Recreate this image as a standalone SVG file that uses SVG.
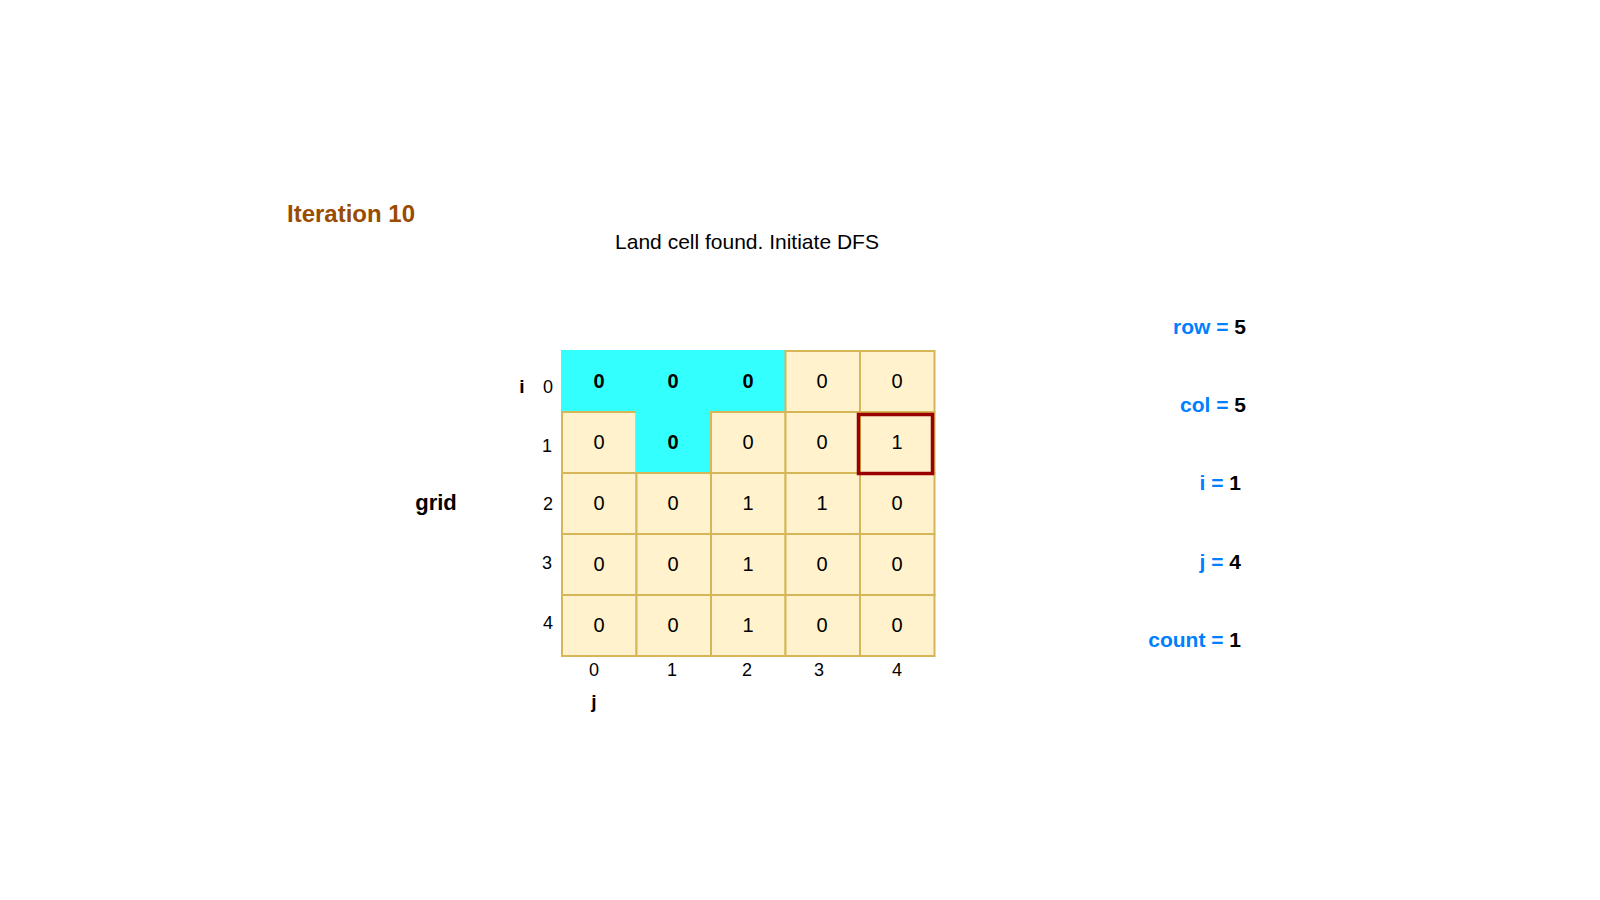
<svg xmlns="http://www.w3.org/2000/svg" width="1600" height="900" viewBox="0 0 1600 900">
<style>
text{font-family:"Liberation Sans",Arial,sans-serif}
.c{fill:#FFF2CC;stroke:#D6B656;stroke-width:2}
.h{fill:#33FFFF;stroke:#33FFFF;stroke-width:2}
.v{font-size:20px;text-anchor:middle;fill:#000}
.b{font-weight:bold}
.ix{font-size:18px;text-anchor:middle;fill:#000}
.lb{font-size:21px;font-weight:bold;text-anchor:end;fill:#007FFF}
.lb tspan{fill:#000}
</style>
<rect width="1600" height="900" fill="#fff"/>
<text x="287" y="222" font-size="24" font-weight="bold" fill="#994C00">Iteration 10</text>
<text x="747" y="249" font-size="21" text-anchor="middle">Land cell found. Initiate DFS</text>
<text x="436" y="510" font-size="22" font-weight="bold" text-anchor="middle">grid</text>
<g id="grid">
<rect class="h" x="562" y="351" width="74.5" height="61"/><text class="v b" x="599" y="388">0</text>
<rect class="h" x="636.5" y="351" width="74.5" height="61"/><text class="v b" x="673" y="388">0</text>
<rect class="h" x="711" y="351" width="74.5" height="61"/><text class="v b" x="748" y="388">0</text>
<rect class="c" x="785.5" y="351" width="74.5" height="61"/><text class="v" x="822" y="388">0</text>
<rect class="c" x="860" y="351" width="74.5" height="61"/><text class="v" x="897" y="388">0</text>
<rect class="c" x="562" y="412" width="74.5" height="61"/><text class="v" x="599" y="449">0</text>
<rect class="h" x="636.5" y="412" width="74.5" height="61"/><text class="v b" x="673" y="449">0</text>
<rect class="c" x="711" y="412" width="74.5" height="61"/><text class="v" x="748" y="449">0</text>
<rect class="c" x="785.5" y="412" width="74.5" height="61"/><text class="v" x="822" y="449">0</text>
<rect class="c" x="860" y="412" width="74.5" height="61"/><text class="v" x="897" y="449">1</text>
<rect class="c" x="562" y="473" width="74.5" height="61"/><text class="v" x="599" y="510">0</text>
<rect class="c" x="636.5" y="473" width="74.5" height="61"/><text class="v" x="673" y="510">0</text>
<rect class="c" x="711" y="473" width="74.5" height="61"/><text class="v" x="748" y="510">1</text>
<rect class="c" x="785.5" y="473" width="74.5" height="61"/><text class="v" x="822" y="510">1</text>
<rect class="c" x="860" y="473" width="74.5" height="61"/><text class="v" x="897" y="510">0</text>
<rect class="c" x="562" y="534" width="74.5" height="61"/><text class="v" x="599" y="571">0</text>
<rect class="c" x="636.5" y="534" width="74.5" height="61"/><text class="v" x="673" y="571">0</text>
<rect class="c" x="711" y="534" width="74.5" height="61"/><text class="v" x="748" y="571">1</text>
<rect class="c" x="785.5" y="534" width="74.5" height="61"/><text class="v" x="822" y="571">0</text>
<rect class="c" x="860" y="534" width="74.5" height="61"/><text class="v" x="897" y="571">0</text>
<rect class="c" x="562" y="595" width="74.5" height="61"/><text class="v" x="599" y="632">0</text>
<rect class="c" x="636.5" y="595" width="74.5" height="61"/><text class="v" x="673" y="632">0</text>
<rect class="c" x="711" y="595" width="74.5" height="61"/><text class="v" x="748" y="632">1</text>
<rect class="c" x="785.5" y="595" width="74.5" height="61"/><text class="v" x="822" y="632">0</text>
<rect class="c" x="860" y="595" width="74.5" height="61"/><text class="v" x="897" y="632">0</text>
<rect x="858.5" y="414.5" width="74" height="59" fill="none" stroke="#990000" stroke-width="3.5"/>
</g>
<g id="axes">
<text x="522" y="393" font-size="19" font-weight="bold" text-anchor="middle">i</text>
<text class="ix" x="548" y="393">0</text>
<text class="ix" x="547" y="452">1</text>
<text class="ix" x="548" y="510">2</text>
<text class="ix" x="547" y="569">3</text>
<text class="ix" x="548" y="629">4</text>
<text class="ix" x="594" y="676">0</text>
<text class="ix" x="672" y="676">1</text>
<text class="ix" x="747" y="676">2</text>
<text class="ix" x="819" y="676">3</text>
<text class="ix" x="897" y="676">4</text>
<text x="594" y="708" font-size="19" font-weight="bold" text-anchor="middle">j</text>
</g>
<g id="vars">
<text class="lb" x="1246" y="334">row = <tspan>5</tspan></text>
<text class="lb" x="1246" y="412">col = <tspan>5</tspan></text>
<text class="lb" x="1241" y="490">i = <tspan>1</tspan></text>
<text class="lb" x="1241" y="569">j = <tspan>4</tspan></text>
<text class="lb" x="1241" y="647">count = <tspan>1</tspan></text>
</g>
</svg>
